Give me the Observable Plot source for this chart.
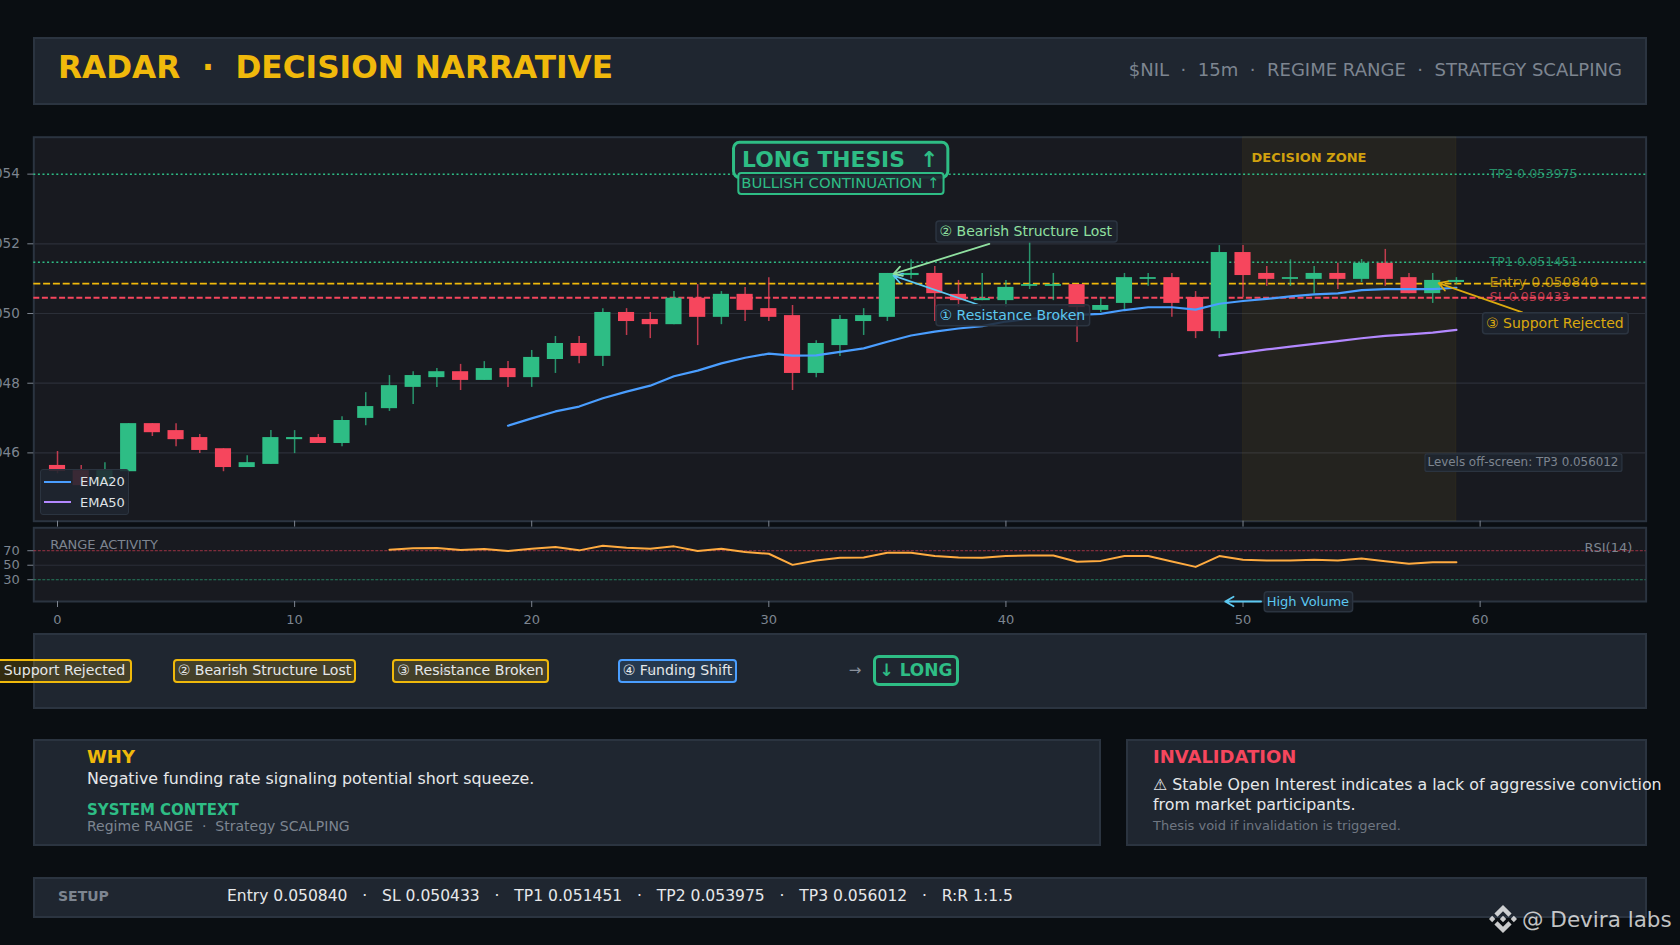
<!DOCTYPE html>
<html>
<head>
<meta charset="utf-8">
<script src="https://cdn.jsdelivr.net/npm/d3@7"></script>
<script src="https://cdn.jsdelivr.net/npm/@observablehq/plot@0.6"></script>
<style>
html,body{margin:0;padding:0;width:1680px;height:945px;overflow:hidden;background:#0a0e12;font-family:"DejaVu Sans",sans-serif;}
#stage{position:relative;width:1680px;height:945px;overflow:hidden;}
.panel{position:absolute;box-sizing:border-box;background:#1f2630;border:2px solid #2b3440;}
.t{position:absolute;white-space:pre;line-height:1;transform:translateY(-50%);}
.chip{position:absolute;box-sizing:border-box;top:659px;height:23.5px;border:2px solid #f0b90b;border-radius:4px;background:rgba(240,185,11,.18);color:#e6e8ea;font-size:14.1px;line-height:18.5px;text-align:center;white-space:pre;}
.chip.blue{border-color:#4a9eff;background:rgba(74,158,255,.15);}
.arr{position:absolute;top:670px;color:#8a919c;font-size:9px;line-height:1;transform:translate(-50%,-50%);}
#legend{position:absolute;left:40px;top:469px;width:89px;height:46px;box-sizing:border-box;background:rgba(31,38,48,.88);border:1.5px solid #2b3440;border-radius:3px;}
#legend i{position:absolute;left:3px;width:27px;height:2px;}
#legend span{position:absolute;left:39px;font-size:13px;line-height:1;color:#dfe2e6;transform:translateY(-50%);}
</style>
</head>
<body>
<div id="stage">
  <div class="panel" style="left:33px;top:37px;width:1614px;height:68px"></div>
  <div class="t" style="left:58px;top:68px;font-size:31.2px;font-weight:700;color:#f0b90b">RADAR  ·  DECISION NARRATIVE</div>
  <div class="t" style="right:58px;top:69.5px;font-size:18.05px;color:#7d8590">$NIL  ·  15m  ·  REGIME RANGE  ·  STRATEGY SCALPING</div>

  <div class="panel" style="left:33px;top:633px;width:1614px;height:76px"></div>
  <div class="panel" style="left:33px;top:739px;width:1068px;height:107px"></div>
  <div class="panel" style="left:1126px;top:739px;width:521px;height:107px"></div>
  <div class="panel" style="left:33px;top:877px;width:1614px;height:41px"></div>

  <div class="chip" style="left:-20px;width:152px">① Support Rejected</div>
  <div class="chip" style="left:173px;width:183px"><span class="arr" style="left:61px;top:10px">→</span>② Bearish Structure Lost</div>
  <div class="chip" style="left:392px;width:157px"><span class="arr" style="left:49px;top:10px">→</span>③ Resistance Broken</div>
  <div class="chip blue" style="left:618px;width:119px"><span class="arr" style="left:30px;top:10px">→</span>④ Funding Shift</div>
  <div class="arr" style="left:855px;font-size:15px">→</div>
  <div class="chip" style="left:873px;top:655px;width:86px;height:31px;border:3px solid #2ebd85;border-radius:6px;background:transparent;color:#2ebd85;font-size:17px;font-weight:700;line-height:24px">↓ LONG</div>

  <div class="t" style="left:87px;top:757px;font-size:18px;font-weight:700;color:#f0b90b">WHY</div>
  <div class="t" style="left:87px;top:779px;font-size:15.85px;color:#e6e8ea">Negative funding rate signaling potential short squeeze.</div>
  <div class="t" style="left:87px;top:809.5px;font-size:15px;font-weight:700;color:#2ebd85">SYSTEM CONTEXT</div>
  <div class="t" style="left:87px;top:826px;font-size:14px;color:#7d8590">Regime RANGE  ·  Strategy SCALPING</div>

  <div class="t" style="left:1153px;top:757px;font-size:18px;font-weight:700;color:#f6465d">INVALIDATION</div>
  <div class="t" style="left:1153px;top:785px;font-size:15.85px;color:#e6e8ea">⚠ Stable Open Interest indicates a lack of aggressive conviction</div>
  <div class="t" style="left:1153px;top:805px;font-size:15.85px;color:#e6e8ea">from market participants.</div>
  <div class="t" style="left:1153px;top:825px;font-size:13px;color:#6f7782">Thesis void if invalidation is triggered.</div>

  <div class="t" style="left:58px;top:896px;font-size:14px;font-weight:700;color:#7d8590">SETUP</div>
  <div class="t" style="left:227px;top:896.5px;font-size:15.55px;color:#e6e8ea">Entry 0.050840   ·   SL 0.050433   ·   TP1 0.051451   ·   TP2 0.053975   ·   TP3 0.056012   ·   R:R 1:1.5</div>

  <div id="charts"></div>

  <div id="legend">
    <i style="top:10.5px;background:#4a9eff"></i><span style="top:11px">EMA20</span>
    <i style="top:31px;background:#b388ff"></i><span style="top:32px">EMA50</span>
  </div>

  <svg style="position:absolute;left:1489px;top:905px;width:28px;height:28px" viewBox="0 0 126.61 126.61"><path fill="rgba(255,255,255,.78)" d="M38.73 53.2l24.59-24.58 24.6 24.6 14.3-14.31L63.32 0 24.43 38.9zM0 63.31l14.3-14.31 14.31 14.31-14.31 14.3zM38.73 73.41l24.59 24.59 24.6-24.6 14.31 14.29-38.9 38.91-38.91-38.88zM98 63.31l14.3-14.31 14.31 14.3-14.31 14.32zM77.83 63.3L63.32 48.78 52.59 59.51l-1.24 1.23-2.54 2.54 14.51 14.5 14.51-14.47z"/></svg>
  <div class="t" style="left:1522px;top:920px;font-size:21.5px;color:rgba(255,255,255,.75)">@ Devira labs</div>
</div>
<script>
// OHLC in thousandths of a price unit
const opens  = [45.64,45.49,45.09,45.46,46.84,46.64,46.44,46.12,45.58,45.67,46.38,46.44,46.27,46.99,47.27,47.88,48.16,48.33,48.08,48.42,48.16,48.68,49.14,48.77,50.03,49.83,49.68,50.44,49.89,50.55,50.14,49.94,48.28,49.08,49.77,49.89,51.09,51.15,50.55,50.37,50.37,50.78,50.78,50.83,50.09,50.29,50.98,51.03,50.46,49.48,51.75,51.15,50.98,50.98,51.15,50.98,51.44,51.03,50.57,50.89];
const highs  = [46.04,45.64,45.72,46.84,46.84,46.84,46.53,46.12,45.92,46.64,46.64,46.53,47.04,47.73,48.22,48.33,48.42,48.54,48.62,48.62,48.94,49.34,49.34,50.14,50.14,50.03,50.63,50.83,50.63,50.75,51.03,50.23,49.22,49.94,50.14,51.15,51.54,51.35,50.95,51.15,50.95,52.04,51.15,50.83,50.43,51.15,51.15,51.15,50.63,51.95,51.95,51.35,51.54,51.35,51.44,51.55,51.84,51.15,51.15,51.03];
const lows   = [45.40,45.00,45.05,45.46,46.47,46.18,45.98,45.46,45.58,45.67,45.98,46.27,46.18,46.78,47.19,47.39,47.88,47.79,48.08,47.88,47.88,48.28,48.56,48.48,49.37,49.28,49.68,49.08,49.68,49.77,49.77,47.79,48.16,48.77,49.37,49.77,50.98,49.77,50.18,50.37,50.18,50.69,50.37,49.17,50.03,50.09,50.78,49.89,49.28,49.28,50.46,50.78,50.78,50.57,50.69,50.89,50.78,50.57,50.29,50.83];
const closes = [45.47,45.06,45.49,46.84,46.58,46.38,46.07,45.58,45.72,46.44,46.44,46.27,46.93,47.33,47.93,48.22,48.33,48.08,48.42,48.16,48.74,49.14,48.77,50.03,49.77,49.68,50.44,49.89,50.55,50.09,49.89,48.28,49.14,49.83,49.94,51.15,51.15,50.57,50.37,50.43,50.75,50.83,50.83,50.17,50.23,51.03,51.03,50.29,49.48,51.75,51.09,50.98,51.03,51.15,50.98,51.44,50.98,50.57,50.95,50.95];
const ema20Start = 19;
const ema20 = [46.78,46.99,47.19,47.33,47.57,47.76,47.93,48.20,48.36,48.57,48.73,48.85,48.79,48.80,48.90,49.00,49.19,49.37,49.48,49.57,49.64,49.77,49.85,49.89,49.96,49.99,50.10,50.18,50.18,50.11,50.28,50.36,50.42,50.49,50.55,50.58,50.67,50.70,50.70,50.70,50.74];
const ema50Start = 49;
const ema50 = [48.79,48.88,48.97,49.05,49.13,49.21,49.29,49.36,49.40,49.45,49.53];
const rsiStart = 14;
const rsi = [71.4,73.3,73.7,70.9,72.3,69.5,72.8,75.1,70.5,77.0,74.2,72.8,76.0,69.5,72.8,68.1,65.8,50.5,56.5,60.2,60.7,67.2,67.2,62.6,60.7,60.2,62.6,63.5,63.5,54.7,56.0,62.6,62.6,55.1,47.7,62.6,57.4,56.5,56.5,57.4,56.5,59.3,55.6,51.9,54.2,54.2];
const levelNames  = ["TP2","TP1","Entry","SL"];
const levelValues = [0.053975,0.051451,0.050840,0.050433];
const priceTicks = [0.046,0.048,0.050,0.052,0.054];
const xTicks = [0,10,20,30,40,50,60];
const rsiTicks = [30,50,70];

const GREEN="#2ebd85", RED="#f6465d", YELLOW="#f0b90b", BLUE="#4a9eff", PURPLE="#b388ff", AXIS="#7d8590", GRID="#2b2f38", FRAME="#2b3440", PANEL="#181a20", CARD="#1f2630";
const fmt = v => v.toFixed(6);

const bars = opens.map((o,i)=>({i,open:o/1000,high:highs[i]/1000,low:lows[i]/1000,close:closes[i]/1000}));
const up = bars.filter(d=>d.close>=d.open), down = bars.filter(d=>d.close<d.open);
const series = (arr,start,k=1)=>arr.map((v,j)=>({i:start+j,v:v*k}));
const levels = levelNames.map((n,j)=>({name:n,value:levelValues[j],label:`${n} ${fmt(levelValues[j])}`}));
const levelColor = [GREEN,GREEN,YELLOW,RED];
const levelDash = ["2,2.6","2,2.6","7,2.8","6,2.6"];

const notes = [
  {text:"BULLISH CONTINUATION ↑",i:28.84,price:0.05374,color:GREEN,size:14.85,px:3.5,py:1.5,stroke:GREEN,sw:2,bg:CARD,op:.9,rx:3},
  {text:"② Bearish Structure Lost",i:37.2,price:0.05235,color:"#90e0a0",size:14,px:4,py:2.5,stroke:FRAME,sw:1.5,bg:CARD,op:.85,rx:3},
  {text:"① Resistance Broken",i:37.2,price:0.04995,color:"#5cc8f0",size:14,px:4,py:2.5,stroke:FRAME,sw:1.5,bg:CARD,op:.85,rx:3},
  {text:"③ Support Rejected",i:60.25,price:0.04972,color:"#dba90f",size:14,px:4,py:2.5,stroke:FRAME,sw:1.5,bg:CARD,op:.85,rx:3},
  {text:"Levels off-screen: TP3 0.056012",i:57.78,price:0.04573,color:"#7d8590",size:11.9,px:3,py:1.8,stroke:FRAME,sw:1.2,bg:CARD,op:.85,rx:2}
];
const arrows = [
  {x1:38.93,y1:0.05023,x2:35.26,y2:0.05109,color:"#5cc8f0"},
  {x1:39.3,y1:0.0520,x2:35.26,y2:0.05114,color:"#90e0a0"},
  {x1:61.78,y1:0.05003,x2:58.25,y2:0.05087,color:"#dba90f"}
];
const thesis = [{text:"LONG THESIS  ↑",i:28.87,price:0.05441,color:GREEN,size:21.8,px:9,py:5,stroke:GREEN,sw:3,bg:CARD,op:1,rx:6}];
const volume = [{text:"High Volume",px:3,py:2.5,stroke:FRAME,sw:1.5,bg:CARD,op:.9,rx:3}];

function boxes(svg,specs){
  const base = svg.getBoundingClientRect();
  const all = Array.from(svg.querySelectorAll("text"));
  specs.forEach(s=>{
    const t = all.find(e=>e.textContent===s.text);
    if(!t) return;
    const b = t.getBoundingClientRect();
    const r = document.createElementNS("http://www.w3.org/2000/svg","rect");
    r.setAttribute("x",b.left-base.left-s.px);
    r.setAttribute("y",b.top-base.top-s.py);
    r.setAttribute("width",b.width+2*s.px);
    r.setAttribute("height",b.height+2*s.py);
    r.setAttribute("rx",s.rx);
    r.setAttribute("fill",s.bg);
    r.setAttribute("fill-opacity",s.op);
    r.setAttribute("stroke",s.stroke);
    r.setAttribute("stroke-width",s.sw);
    t.parentNode.insertBefore(r,t);
  });
}

const main = Plot.plot({
  width:1680,height:540,marginLeft:33.3,marginRight:34.4,marginTop:136.7,marginBottom:19.3,
  style:{background:"transparent",fontFamily:"DejaVu Sans",overflow:"visible",position:"absolute",left:"0px",top:"0px"},
  x:{domain:[-1,67]},
  y:{domain:[0.04404,0.05506]},
  marks:[
    Plot.frame({fill:PANEL,stroke:FRAME,strokeWidth:2}),
    Plot.ruleY(priceTicks.slice(0,4),{stroke:GRID,strokeWidth:1.2}),
    Plot.rect([{a:50,b:59}],{x1:"a",x2:"b",fill:YELLOW,fillOpacity:.06,stroke:YELLOW,strokeOpacity:.05}),
    Plot.axisY({ticks:priceTicks,tickFormat:d=>d.toFixed(3),tickSize:6,tickPadding:8,fontSize:13.5,stroke:AXIS,fill:AXIS}),
    Plot.axisX({ticks:xTicks,tickSize:6,fill:"none",stroke:AXIS,label:null}),
    ...levels.map((l,j)=>Plot.ruleY([l.value],{stroke:levelColor[j],strokeWidth:j<2?1.6:1.8,strokeDasharray:levelDash[j],dy:-.7})),
    Plot.ruleX(up,{x:"i",y1:"low",y2:"high",stroke:GREEN,strokeWidth:1.5,strokeOpacity:.75}),
    Plot.ruleX(down,{x:"i",y1:"low",y2:"high",stroke:RED,strokeWidth:1.5,strokeOpacity:.75}),
    Plot.rect(up,{x1:d=>d.i-.34,x2:d=>d.i+.34,y1:"open",y2:"close",fill:GREEN}),
    Plot.rect(down,{x1:d=>d.i-.34,x2:d=>d.i+.34,y1:"open",y2:"close",fill:RED}),
    Plot.line(series(ema20,ema20Start,.001),{x:"i",y:"v",stroke:BLUE,strokeWidth:2.2}),
    Plot.line(series(ema50,ema50Start,.001),{x:"i",y:"v",stroke:PURPLE,strokeWidth:2.2}),
    Plot.text(levels,{x:()=>60.4,y:"value",text:"label",textAnchor:"start",fontSize:d=>d.name==="Entry"?14:12.7,fill:{value:d=>levelColor[levels.indexOf(d)],scale:null},fillOpacity:.72,dy:-1.5}),
    Plot.text(["DECISION ZONE"],{x:()=>50.36,y:()=>0.05447,text:d=>d,textAnchor:"start",fontSize:13,fontWeight:700,fill:YELLOW,fillOpacity:.85}),
    Plot.arrow(arrows,{x1:"x1",y1:"y1",x2:"x2",y2:"y2",stroke:d=>d.color,strokeWidth:1.8,bend:0,headLength:8}),
    Plot.text(thesis,{x:"i",y:"price",text:"text",textAnchor:"start",fontSize:"size",fontWeight:700,fill:GREEN}),
    Plot.text(notes,{x:"i",y:"price",text:"text",textAnchor:"start",fontSize:"size",fill:{value:"color",scale:null}})
  ]
});
const rsiPlot = Plot.plot({
  width:1680,height:120,marginLeft:33.3,marginRight:34.4,marginTop:7.3,marginBottom:39,
  style:{background:"transparent",fontFamily:"DejaVu Sans",overflow:"visible",position:"absolute",left:"0px",top:"520px"},
  x:{domain:[-1,67]},
  y:{domain:[0,101.6]},
  marks:[
    Plot.frame({fill:PANEL,stroke:FRAME,strokeWidth:2}),
    Plot.ruleY([50],{stroke:GRID,strokeWidth:1}),
    Plot.ruleY([70],{stroke:RED,strokeOpacity:.6,strokeWidth:1,strokeDasharray:"3,1.5"}),
    Plot.ruleY([30],{stroke:GREEN,strokeOpacity:.6,strokeWidth:1,strokeDasharray:"3,1.5"}),
    Plot.axisY({ticks:rsiTicks,tickSize:6,tickPadding:8,fontSize:13,stroke:AXIS,fill:AXIS,label:null}),
    Plot.axisX({ticks:xTicks,tickSize:6,tickPadding:7,fontSize:13,stroke:AXIS,fill:AXIS,label:null}),
    Plot.line(series(rsi,rsiStart),{x:"i",y:"v",stroke:"#ffab40",strokeWidth:2}),
    Plot.text(["RANGE ACTIVITY"],{x:()=>-.31,y:()=>78.5,text:d=>d,textAnchor:"start",fontSize:13,fill:AXIS}),
    Plot.text(["RSI(14)"],{x:()=>64.4,y:()=>73.5,text:d=>d,textAnchor:"start",fontSize:13,fill:AXIS}),
    Plot.arrow([{a:50.76,b:49.25}],{x1:"a",x2:"b",y1:()=>0,y2:()=>0,stroke:"#5cc8f0",strokeWidth:1.8,bend:0,headLength:8}),
    Plot.text(volume,{x:()=>51.0,y:()=>0,text:"text",textAnchor:"start",fontSize:13,fill:"#5cc8f0"})
  ]
});
const host = document.getElementById("charts");
host.append(main,rsiPlot);
boxes(main,[...thesis,...notes]);
boxes(rsiPlot,volume);
</script>
</body>
</html>
